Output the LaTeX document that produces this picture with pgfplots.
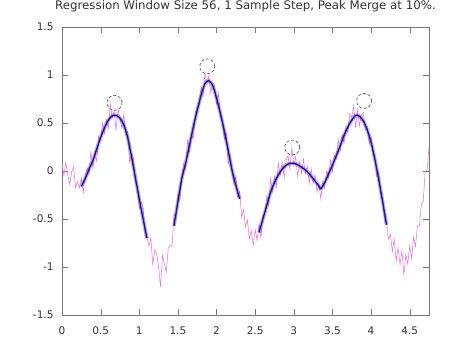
\documentclass[border=0pt]{standalone}
\usepackage{pgfplots}
\pgfplotsset{compat=1.18}
\usepackage{fontspec}
\setmainfont{DejaVu Sans}
\definecolor{sig}{RGB}{228,120,220}
\definecolor{fitcore}{RGB}{30,20,150}
\definecolor{fithaze}{RGB}{70,40,230}
\definecolor{axgray}{RGB}{120,120,120}
\begin{document}
\begin{tikzpicture}
\useasboundingbox (-62bp,-40bp) rectangle (412bp,315bp);
\begin{axis}[
  name=ax,
  at={(0,0)}, anchor=south west,
  scale only axis, width=367bp, height=288bp,
  xmin=0, xmax=4.75, ymin=-1.5, ymax=1.5,
  xtick={0,0.5,1,1.5,2,2.5,3,3.5,4,4.5},
  xticklabels={0,0.5,1,1.5,2,2.5,3,3.5,4,4.5},
  ytick={-1.5,-1,-0.5,0,0.5,1,1.5},
  yticklabels={-1.5,-1,-0.5,0,0.5,1,1.5},
  tick align=inside, major tick length=6bp,
  axis line style={axgray}, tick style={axgray},
  ticklabel style={font=\fontsize{10.5bp}{12bp}\selectfont, text=black!80},
  xticklabel style={yshift=-8bp},
  yticklabel style={xshift=-5bp},
  clip=true,
]
\addplot[sig, line width=0.55pt] table {
0.000 0.07
0.025 -0.045
0.050 0.09
0.075 -0.04
0.100 -0.14
0.125 -0.01
0.150 0.04
0.175 -0.17
0.200 -0.11
0.225 -0.175
0.250 -0.07
0.275 -0.225
0.300 -0.05
0.325 0.03
0.350 -0.03
0.375 0.205
0.400 0.03
0.425 0.19
0.450 0.10
0.475 0.36
0.500 0.32
0.525 0.50
0.550 0.39
0.575 0.53
0.600 0.44
0.625 0.70
0.650 0.555
0.675 0.63
0.700 0.42
0.725 0.645
0.750 0.55
0.775 0.445
0.800 0.59
0.825 0.375
0.850 0.41
0.875 0.09
0.900 0.18
0.925 0.13
0.950 -0.12
0.975 -0.16
1.000 -0.39
1.025 -0.325
1.050 -0.37
1.075 -0.68
1.100 -0.69
1.125 -0.78
1.150 -0.70
1.175 -0.975
1.200 -0.82
1.225 -0.865
1.250 -1.00
1.275 -1.205
1.300 -0.88
1.325 -0.97
1.350 -1.05
1.375 -0.805
1.400 -0.77
1.425 -0.775
1.450 -0.45
1.475 -0.485
1.500 -0.25
1.525 -0.31
1.550 -0.06
1.575 0.08
1.600 0.03
1.625 0.325
1.650 0.20
1.675 0.375
1.700 0.34
1.725 0.605
1.750 0.67
1.775 0.68
1.800 0.88
1.825 0.77
1.850 1.02
1.875 0.91
1.900 0.99
1.925 0.815
1.950 0.92
1.975 0.895
2.000 0.70
2.025 0.81
2.050 0.56
2.075 0.53
2.100 0.33
2.125 0.40
2.150 0.07
2.175 0.165
2.200 0.02
2.225 -0.14
2.250 -0.05
2.275 -0.27
2.300 -0.21
2.325 -0.485
2.350 -0.40
2.375 -0.585
2.400 -0.51
2.425 -0.71
2.450 -0.62
2.475 -0.775
2.500 -0.61
2.525 -0.72
2.550 -0.55
2.575 -0.70
2.600 -0.46
2.625 -0.45
2.650 -0.26
2.675 -0.36
2.700 -0.08
2.725 -0.22
2.750 -0.06
2.775 -0.17
2.800 0.08
2.825 -0.04
2.850 0.09
2.875 -0.07
2.900 0.11
2.925 0.16
2.950 0.02
2.975 0.24
3.000 0.06
3.025 0.15
3.050 -0.055
3.075 0.09
3.100 -0.03
3.125 0.125
3.150 -0.03
3.175 0.05
3.200 -0.13
3.225 0.025
3.250 -0.13
3.275 -0.035
3.300 -0.22
3.325 -0.13
3.350 -0.29
3.375 -0.105
3.400 -0.18
3.425 0.005
3.450 -0.07
3.475 0.115
3.500 -0.01
3.525 0.16
3.550 0.13
3.575 0.33
3.600 0.21
3.625 0.385
3.650 0.29
3.675 0.455
3.700 0.40
3.725 0.595
3.750 0.56
3.775 0.675
3.800 0.45
3.825 0.635
3.850 0.47
3.875 0.585
3.900 0.61
3.925 0.425
3.950 0.46
3.975 0.275
4.000 0.36
4.025 0.17
4.050 0.14
4.075 -0.055
4.100 -0.01
4.125 -0.255
4.150 -0.29
4.175 -0.50
4.200 -0.51
4.225 -0.71
4.250 -0.66
4.275 -0.84
4.300 -0.71
4.325 -0.94
4.350 -0.80
4.375 -0.975
4.400 -0.83
4.425 -1.085
4.450 -0.87
4.475 -0.97
4.500 -0.78
4.525 -0.91
4.550 -0.69
4.575 -0.785
4.600 -0.57
4.625 -0.575
4.650 -0.35
4.675 -0.32
4.700 -0.01
4.725 0.01
4.750 0.25
};
% fit segments: haze
\addplot[fithaze, opacity=0.4, line width=3.5pt, smooth] coordinates {
(0.25,-0.16) (0.30,-0.08) (0.35,0.02) (0.40,0.11) (0.45,0.23) (0.50,0.35) (0.55,0.45) (0.60,0.53) (0.65,0.575) (0.70,0.58) (0.75,0.55) (0.80,0.48) (0.85,0.35) (0.90,0.15) (0.95,-0.07) (1.00,-0.29) (1.05,-0.50) (1.10,-0.70)};
\addplot[fithaze, opacity=0.4, line width=3.5pt, smooth] coordinates {
(1.45,-0.57) (1.50,-0.32) (1.55,-0.08) (1.60,0.08) (1.65,0.27) (1.70,0.46) (1.75,0.63) (1.80,0.79) (1.85,0.91) (1.90,0.94) (1.95,0.89) (2.00,0.76) (2.05,0.60) (2.10,0.42) (2.15,0.22) (2.20,0.01) (2.25,-0.15) (2.30,-0.29)};
\addplot[fithaze, opacity=0.4, line width=3.5pt, smooth] coordinates {
(2.55,-0.64) (2.60,-0.50) (2.65,-0.36) (2.70,-0.22) (2.75,-0.12) (2.80,-0.04) (2.85,0.02) (2.90,0.06) (2.95,0.08) (3.00,0.08) (3.05,0.065) (3.10,0.04) (3.15,0.01) (3.20,-0.03) (3.25,-0.08) (3.30,-0.13) (3.35,-0.19)};
\addplot[fithaze, opacity=0.4, line width=3.5pt, smooth] coordinates {
(3.35,-0.19) (3.40,-0.12) (3.45,-0.03) (3.50,0.06) (3.55,0.16) (3.60,0.26) (3.65,0.37) (3.70,0.46) (3.75,0.53) (3.80,0.58) (3.85,0.57) (3.90,0.52) (3.95,0.43) (4.00,0.30) (4.05,0.12) (4.10,-0.09) (4.15,-0.32) (4.20,-0.56)};
% fit segments: core
\addplot[fitcore, line width=1.3pt, smooth] coordinates {
(0.25,-0.16) (0.30,-0.08) (0.35,0.02) (0.40,0.11) (0.45,0.23) (0.50,0.35) (0.55,0.45) (0.60,0.53) (0.65,0.575) (0.70,0.58) (0.75,0.55) (0.80,0.48) (0.85,0.35) (0.90,0.15) (0.95,-0.07) (1.00,-0.29) (1.05,-0.50) (1.10,-0.70)};
\addplot[fitcore, line width=1.3pt, smooth] coordinates {
(1.45,-0.57) (1.50,-0.32) (1.55,-0.08) (1.60,0.08) (1.65,0.27) (1.70,0.46) (1.75,0.63) (1.80,0.79) (1.85,0.91) (1.90,0.94) (1.95,0.89) (2.00,0.76) (2.05,0.60) (2.10,0.42) (2.15,0.22) (2.20,0.01) (2.25,-0.15) (2.30,-0.29)};
\addplot[fitcore, line width=1.3pt, smooth] coordinates {
(2.55,-0.64) (2.60,-0.50) (2.65,-0.36) (2.70,-0.22) (2.75,-0.12) (2.80,-0.04) (2.85,0.02) (2.90,0.06) (2.95,0.08) (3.00,0.08) (3.05,0.065) (3.10,0.04) (3.15,0.01) (3.20,-0.03) (3.25,-0.08) (3.30,-0.13) (3.35,-0.19)};
\addplot[fitcore, line width=1.3pt, smooth] coordinates {
(3.35,-0.19) (3.40,-0.12) (3.45,-0.03) (3.50,0.06) (3.55,0.16) (3.60,0.26) (3.65,0.37) (3.70,0.46) (3.75,0.53) (3.80,0.58) (3.85,0.57) (3.90,0.52) (3.95,0.43) (4.00,0.30) (4.05,0.12) (4.10,-0.09) (4.15,-0.32) (4.20,-0.56)};
% peaks
\addplot[only marks, mark=o, mark size=7.5bp, mark options={draw=black!70, line width=0.6pt, densely dashed}] coordinates {
(0.68,0.71) (1.88,1.09) (2.98,0.245) (3.91,0.73)};
\end{axis}
\node[anchor=base, yshift=17bp, font=\fontsize{11.8bp}{14bp}\selectfont, text=black!80, inner sep=0pt] at (ax.north) {Regression Window Size 56, 1 Sample Step, Peak Merge at 10\%.};
\end{tikzpicture}
\end{document}
